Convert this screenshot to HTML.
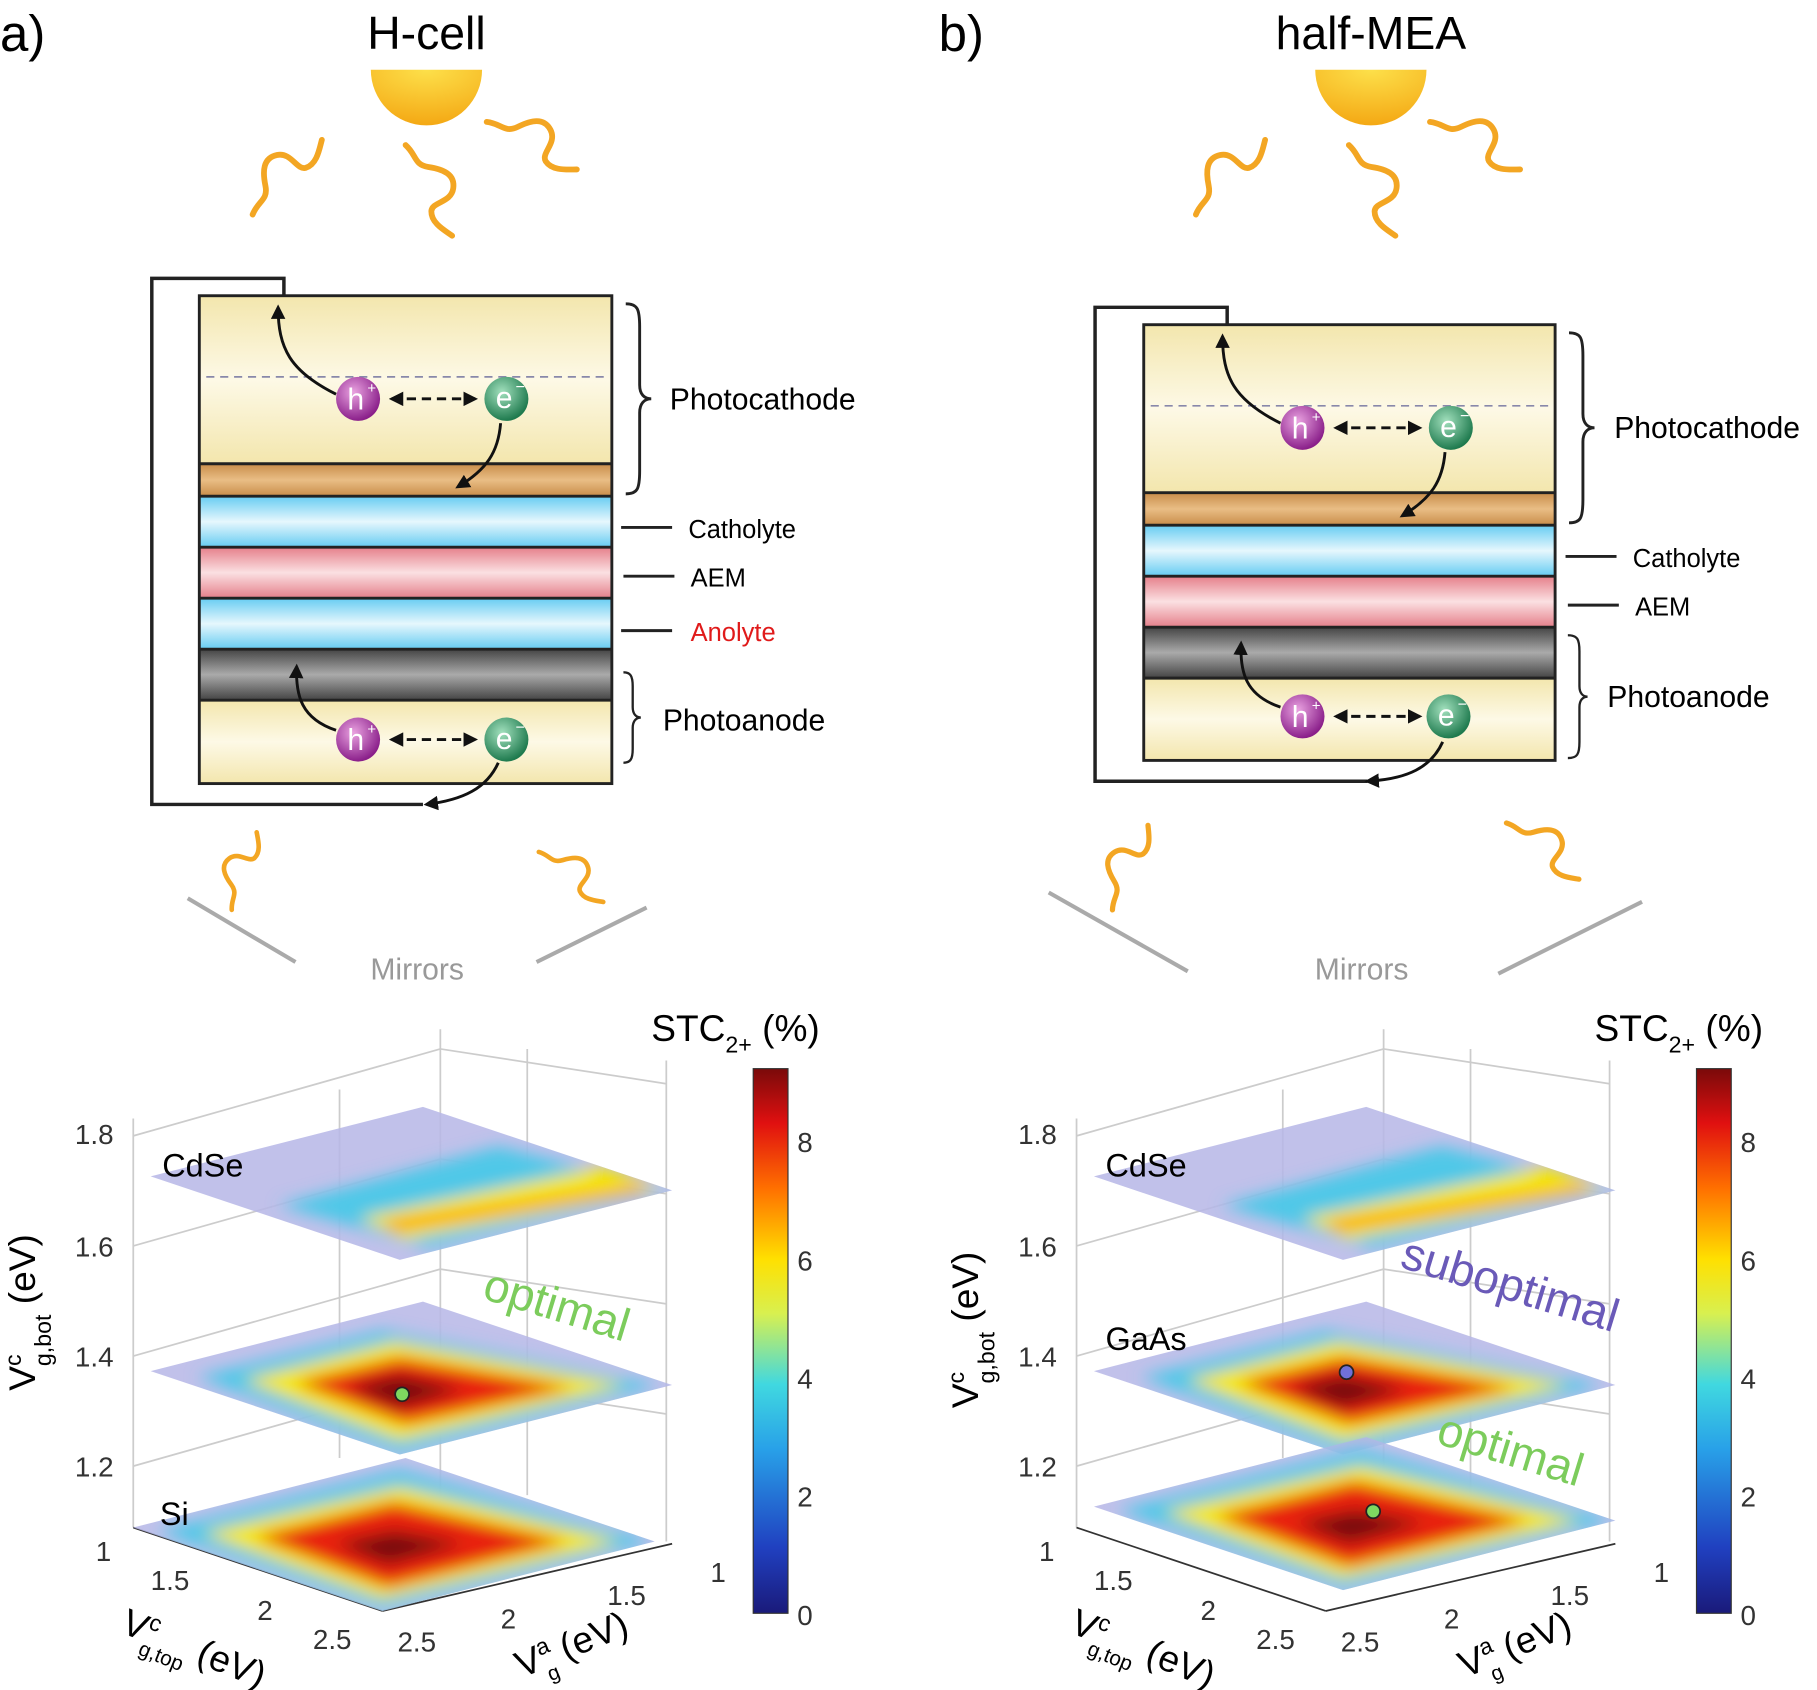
<!DOCTYPE html>
<html><head><meta charset="utf-8"><style>
html,body{margin:0;padding:0;background:#fff}
svg{display:block}
text{font-family:"Liberation Sans","DejaVu Sans",sans-serif}
</style></head><body>
<svg width="1817" height="1690" viewBox="0 0 1568 1458" xmlns="http://www.w3.org/2000/svg">
<defs>
<marker id="ah" viewBox="0 0 10 10" refX="8" refY="5" markerWidth="5" markerHeight="5" orient="auto-start-reverse"><path d="M0,0 L10,5 L0,10 z" fill="#111"/></marker>
<radialGradient id="sun" cx="50%" cy="0%" r="100%"><stop offset="0" stop-color="#fde04a"/><stop offset="1" stop-color="#f4a814"/></radialGradient>
<linearGradient id="yel" x1="0" y1="0" x2="0" y2="1"><stop offset="0" stop-color="#f3e6ad"/><stop offset="0.5" stop-color="#fdf9e6"/><stop offset="1" stop-color="#f3e6ad"/></linearGradient>
<linearGradient id="brn" x1="0" y1="0" x2="0" y2="1"><stop offset="0" stop-color="#c98d4a"/><stop offset="0.5" stop-color="#e9bd85"/><stop offset="1" stop-color="#c98d4a"/></linearGradient>
<linearGradient id="cyn" x1="0" y1="0" x2="0" y2="1"><stop offset="0" stop-color="#66ccf2"/><stop offset="0.5" stop-color="#e6f7fd"/><stop offset="1" stop-color="#66ccf2"/></linearGradient>
<linearGradient id="pnk" x1="0" y1="0" x2="0" y2="1"><stop offset="0" stop-color="#e57f8a"/><stop offset="0.5" stop-color="#fbe0e2"/><stop offset="1" stop-color="#e57f8a"/></linearGradient>
<linearGradient id="gry" x1="0" y1="0" x2="0" y2="1"><stop offset="0" stop-color="#444"/><stop offset="0.5" stop-color="#aaa"/><stop offset="1" stop-color="#444"/></linearGradient>
<radialGradient id="hg" cx="40%" cy="35%" r="65%"><stop offset="0" stop-color="#e9a2e0"/><stop offset="1" stop-color="#8a1f8a"/></radialGradient>
<radialGradient id="eg" cx="40%" cy="35%" r="65%"><stop offset="0" stop-color="#a2e0bd"/><stop offset="1" stop-color="#1e7a4e"/></radialGradient>
<linearGradient id="jet" x1="0" y1="1" x2="0" y2="0">
<stop offset="0" stop-color="#1a1a7a"/><stop offset="0.12" stop-color="#2040c0"/><stop offset="0.3" stop-color="#28a0e8"/><stop offset="0.42" stop-color="#40d8e0"/><stop offset="0.55" stop-color="#d8f050"/><stop offset="0.65" stop-color="#ffe000"/><stop offset="0.78" stop-color="#ff7000"/><stop offset="0.9" stop-color="#e01010"/><stop offset="1" stop-color="#7a0a0a"/></linearGradient>
<filter id="bl" x="-10%" y="-30%" width="120%" height="160%"><feGaussianBlur stdDeviation="7"/></filter>
<clipPath id="pl"><polygon points="0,0 235,-60 450,12 215,72"/></clipPath>
<g id="wave"><path d="M0,0 c10,-8 18,-4 22,-16 c4,-12 10,-22 22,-18 c12,4 8,20 16,22 c10,2 18,-8 24,-14" fill="none" stroke="#f3a623" stroke-width="5" stroke-linecap="round"/></g>
<g id="h"><circle r="19" fill="url(#hg)"/><text x="-2" y="9" font-size="26" fill="#fff" text-anchor="middle">h</text><text x="8" y="-5" font-size="13" fill="#fff">+</text></g>
<g id="e"><circle r="19" fill="url(#eg)"/><text x="-2" y="8" font-size="26" fill="#fff" text-anchor="middle">e</text><text x="8" y="-6" font-size="14" fill="#fff">−</text></g>
<g id="base"><polygon points="0,0 235,-60 450,12 215,72" fill="#b6b6e6" fill-opacity="0.85"/></g>
<g id="pMid"><use href="#base"/><g clip-path="url(#pl)"><g filter="url(#bl)">
<polygon points="40,5 200,-35 440,12 215,72" fill="#4fc8e8"/>
<polygon points="80,8 210,-25 410,12 215,60" fill="#f6e800"/>
<polygon points="125,10 215,-12 365,14 220,46" fill="#e82010"/>
<polygon points="170,14 215,3 270,16 215,32" fill="#7a0a0a"/></g></g></g>
<g id="pTop"><use href="#base"/><g clip-path="url(#pl)"><g filter="url(#bl)">
<polygon points="110,25 300,-26 450,12 240,62" fill="#4fc8e8"/>
<polygon points="180,36 390,-8 440,11 220,54" fill="#f6e800"/>
<polygon points="200,40 420,8 430,12 210,46" fill="#ff8000"/></g></g></g>
<g id="pBot"><use href="#base"/><g clip-path="url(#pl)"><g filter="url(#bl)">
<polygon points="20,3 230,-50 450,12 215,72" fill="#4fc8e8"/>
<polygon points="60,5 230,-35 420,12 215,62" fill="#f6e800"/>
<polygon points="105,8 225,-22 375,12 220,52" fill="#e82010"/>
<polygon points="175,14 225,3 285,14 220,32" fill="#7a0a0a"/></g></g></g>
<g id="axes" stroke="#ccc" stroke-width="1.5" fill="none">
<line x1="115" y1="965" x2="115" y2="1318"/><line x1="293" y1="940" x2="293" y2="1258"/><line x1="380" y1="888" x2="380" y2="1330"/><line x1="575" y1="915" x2="575" y2="1330"/><line x1="455" y1="905" x2="455" y2="1290"/>
<line x1="115" y1="980" x2="380" y2="905"/><line x1="115" y1="1075" x2="380" y2="1000"/><line x1="115" y1="1170" x2="380" y2="1095"/><line x1="115" y1="1265" x2="380" y2="1190"/>
<line x1="380" y1="905" x2="575" y2="935"/><line x1="380" y1="1000" x2="575" y2="1030"/><line x1="380" y1="1095" x2="575" y2="1125"/><line x1="380" y1="1190" x2="575" y2="1220"/>
<line x1="115" y1="1318" x2="330" y2="1390" stroke="#333"/><line x1="330" y1="1390" x2="580" y2="1332" stroke="#333"/>
</g>
</defs>

<!-- Panel a -->
<text x="0" y="44" font-size="44">a)</text>
<text x="368" y="42" font-size="40" text-anchor="middle">H-cell</text>
<path d="M320,60 A48,48 0 0 0 416,60 Z" fill="url(#sun)"/>
<use href="#wave" transform="translate(218,185) rotate(-30)"/>
<use href="#wave" transform="translate(350,125) rotate(80)"/>
<use href="#wave" transform="translate(420,105) rotate(45)"/>
<path d="M245,255 V240 H131 V694 H365" fill="none" stroke="#222" stroke-width="3"/>
<rect x="172" y="255" width="356" height="145" fill="url(#yel)"/>
<rect x="172" y="400" width="356" height="28" fill="url(#brn)"/>
<rect x="172" y="428" width="356" height="44" fill="url(#cyn)"/>
<rect x="172" y="472" width="356" height="44" fill="url(#pnk)"/>
<rect x="172" y="516" width="356" height="44" fill="url(#cyn)"/>
<rect x="172" y="560" width="356" height="44" fill="url(#gry)"/>
<rect x="172" y="604" width="356" height="72" fill="url(#yel)"/>
<g stroke="#222" stroke-width="2.5" fill="none"><rect x="172" y="255" width="356" height="421"/><line x1="172" y1="400" x2="528" y2="400"/><line x1="172" y1="428" x2="528" y2="428"/><line x1="172" y1="472" x2="528" y2="472"/><line x1="172" y1="516" x2="528" y2="516"/><line x1="172" y1="560" x2="528" y2="560"/><line x1="172" y1="604" x2="528" y2="604"/></g>
<line x1="178" y1="325" x2="522" y2="325" stroke="#8888aa" stroke-dasharray="7,5" stroke-width="1.5"/>
<g stroke="#111" stroke-width="2.5" fill="none"><path d="M290,340 C250,320 240,300 240,265" marker-end="url(#ah)"/><path d="M432,365 C430,390 420,405 395,420" marker-end="url(#ah)"/><path d="M290,630 C260,620 255,600 256,575" marker-end="url(#ah)"/><path d="M430,658 C420,680 400,690 368,694" marker-end="url(#ah)"/><line x1="338" y1="344" x2="410" y2="344" stroke-dasharray="8,5" marker-start="url(#ah)" marker-end="url(#ah)"/><line x1="338" y1="638" x2="410" y2="638" stroke-dasharray="8,5" marker-start="url(#ah)" marker-end="url(#ah)"/></g>
<use href="#h" x="309" y="344"/><use href="#e" x="437" y="344"/><use href="#h" x="309" y="638"/><use href="#e" x="437" y="638"/>
<path d="M540,262 c10,0 12,4 12,20 v50 c0,8 4,12 10,12 c-6,0 -10,4 -10,12 v50 c0,16 -2,20 -12,20" fill="none" stroke="#222" stroke-width="2.5"/>
<text x="578" y="353" font-size="26">Photocathode</text>
<g stroke="#222" stroke-width="2.5"><line x1="536" y1="455" x2="580" y2="455"/><line x1="538" y1="497" x2="582" y2="497"/><line x1="536" y1="544" x2="580" y2="544"/></g>
<text x="594" y="464" font-size="22">Catholyte</text><text x="596" y="506" font-size="22">AEM</text><text x="596" y="553" font-size="22" fill="#e01a1a">Anolyte</text>
<path d="M538,580 c6,0 8,3 8,12 v18 c0,6 3,9 7,9 c-4,0 -7,3 -7,9 v18 c0,9 -2,12 -8,12" fill="none" stroke="#222" stroke-width="2"/>
<text x="572" y="630" font-size="26">Photoanode</text>
<use href="#wave" transform="translate(200,785) rotate(-55) scale(0.8)"/>
<use href="#wave" transform="translate(465,735) rotate(55) scale(0.8)"/>
<g stroke="#aaa" stroke-width="3.5"><line x1="162" y1="775" x2="255" y2="830"/><line x1="463" y1="830" x2="558" y2="783"/></g>
<text x="360" y="845" font-size="26" fill="#999" text-anchor="middle">Mirrors</text>

<!-- Panel b -->
<text x="810" y="44" font-size="44">b)</text>
<text x="1183" y="42" font-size="40" text-anchor="middle">half-MEA</text>
<path d="M1135,60 A48,48 0 0 0 1231,60 Z" fill="url(#sun)"/>
<use href="#wave" transform="translate(1032,185) rotate(-30)"/>
<use href="#wave" transform="translate(1164,125) rotate(80)"/>
<use href="#wave" transform="translate(1234,105) rotate(45)"/>
<path d="M1059,280 V265 H945 V674 H1180" fill="none" stroke="#222" stroke-width="3"/>
<rect x="987" y="280" width="355" height="145" fill="url(#yel)"/>
<rect x="987" y="425" width="355" height="28" fill="url(#brn)"/>
<rect x="987" y="453" width="355" height="44" fill="url(#cyn)"/>
<rect x="987" y="497" width="355" height="44" fill="url(#pnk)"/>
<rect x="987" y="541" width="355" height="44" fill="url(#gry)"/>
<rect x="987" y="585" width="355" height="71" fill="url(#yel)"/>
<g stroke="#222" stroke-width="2.5" fill="none"><rect x="987" y="280" width="355" height="376"/><line x1="987" y1="425" x2="1342" y2="425"/><line x1="987" y1="453" x2="1342" y2="453"/><line x1="987" y1="497" x2="1342" y2="497"/><line x1="987" y1="541" x2="1342" y2="541"/><line x1="987" y1="585" x2="1342" y2="585"/></g>
<line x1="993" y1="350" x2="1336" y2="350" stroke="#8888aa" stroke-dasharray="7,5" stroke-width="1.5"/>
<g stroke="#111" stroke-width="2.5" fill="none"><path d="M1105,365 C1065,345 1055,325 1055,290" marker-end="url(#ah)"/><path d="M1247,390 C1245,415 1235,430 1210,445" marker-end="url(#ah)"/><path d="M1105,610 C1075,600 1070,580 1071,555" marker-end="url(#ah)"/><path d="M1245,640 C1235,662 1215,672 1180,674" marker-end="url(#ah)"/><line x1="1153" y1="369" x2="1225" y2="369" stroke-dasharray="8,5" marker-start="url(#ah)" marker-end="url(#ah)"/><line x1="1153" y1="618" x2="1225" y2="618" stroke-dasharray="8,5" marker-start="url(#ah)" marker-end="url(#ah)"/></g>
<use href="#h" x="1124" y="369"/><use href="#e" x="1252" y="369"/><use href="#h" x="1124" y="618"/><use href="#e" x="1250" y="618"/>
<path d="M1354,287 c10,0 12,4 12,20 v50 c0,8 4,12 10,12 c-6,0 -10,4 -10,12 v50 c0,16 -2,20 -12,20" fill="none" stroke="#222" stroke-width="2.5"/>
<text x="1393" y="378" font-size="26">Photocathode</text>
<g stroke="#222" stroke-width="2.5"><line x1="1351" y1="480" x2="1395" y2="480"/><line x1="1353" y1="522" x2="1397" y2="522"/></g>
<text x="1409" y="489" font-size="22">Catholyte</text><text x="1411" y="531" font-size="22">AEM</text>
<path d="M1353,548 c8,0 10,3 10,14 v30 c0,6 3,9 7,9 c-4,0 -7,3 -7,9 v30 c0,11 -2,14 -10,14" fill="none" stroke="#222" stroke-width="2"/>
<text x="1387" y="610" font-size="26">Photoanode</text>
<use href="#wave" transform="translate(960,785) rotate(-50) scale(0.9)"/>
<use href="#wave" transform="translate(1300,710) rotate(55) scale(0.9)"/>
<g stroke="#aaa" stroke-width="3.5"><line x1="905" y1="770" x2="1025" y2="838"/><line x1="1293" y1="840" x2="1417" y2="778"/></g>
<text x="1175" y="845" font-size="26" fill="#999" text-anchor="middle">Mirrors</text>

<!-- Plot a -->
<g>
<use href="#axes"/>
<use href="#pTop" x="130" y="1015"/>
<use href="#pMid" x="130" y="1183"/>
<use href="#pBot" x="115" y="1318"/>
<circle cx="347" cy="1203" r="6" fill="#7ed860" stroke="#222" stroke-width="1.5"/>
<text x="140" y="1015" font-size="28">CdSe</text>
<text x="138" y="1316" font-size="28">Si</text>
<text x="415" y="1120" font-size="40" fill="#7ccc5c" transform="rotate(17 415 1120)">optimal</text>
<g font-size="24" fill="#333" text-anchor="end"><text x="98" y="987">1.8</text><text x="98" y="1084">1.6</text><text x="98" y="1179">1.4</text><text x="98" y="1274">1.2</text><text x="96" y="1347">1</text></g>
<g font-size="24" fill="#333"><text x="130" y="1372">1.5</text><text x="222" y="1398">2</text><text x="270" y="1423">2.5</text><text x="343" y="1425">2.5</text><text x="432" y="1405">2</text><text x="524" y="1385">1.5</text><text x="613" y="1365">1</text></g>
<text transform="translate(30,1200) rotate(-90)" font-size="32">V<tspan font-size="20" dy="-12">c</tspan><tspan font-size="20" dx="-10" dy="26">g,bot</tspan><tspan dy="-14"> (eV)</tspan></text>
<text transform="translate(103,1408) rotate(22)" font-size="32">V<tspan font-size="20" dy="-12">c</tspan><tspan font-size="18" dx="-10" dy="24">g,top</tspan><tspan dy="-12"> (eV)</tspan></text>
<text transform="translate(450,1448) rotate(-22)" font-size="32">V<tspan font-size="20" dy="-12">a</tspan><tspan font-size="18" dx="-10" dy="24">g</tspan><tspan dy="-12"> (eV)</tspan></text>
<rect x="650" y="922" width="30" height="470" fill="url(#jet)" stroke="#333" stroke-width="1"/>
<g font-size="24" fill="#333"><text x="688" y="1402">0</text><text x="688" y="1300">2</text><text x="688" y="1198">4</text><text x="688" y="1096">6</text><text x="688" y="994">8</text></g>
<text x="562" y="898" font-size="32">STC<tspan font-size="20" dy="10">2+</tspan><tspan dy="-10"> (%)</tspan></text>
</g>

<!-- Plot b -->
<g transform="translate(814,0)">
<use href="#axes"/>
<use href="#pTop" x="130" y="1015"/>
<use href="#pMid" x="130" y="1183"/>
<use href="#pBot" x="130" y="1300"/>
<text x="140" y="1015" font-size="28">CdSe</text>
<text x="140" y="1165" font-size="28">GaAs</text>
<g font-size="24" fill="#333" text-anchor="end"><text x="98" y="987">1.8</text><text x="98" y="1084">1.6</text><text x="98" y="1179">1.4</text><text x="98" y="1274">1.2</text><text x="96" y="1347">1</text></g>
<g font-size="24" fill="#333"><text x="130" y="1372">1.5</text><text x="222" y="1398">2</text><text x="270" y="1423">2.5</text><text x="343" y="1425">2.5</text><text x="432" y="1405">2</text><text x="524" y="1385">1.5</text><text x="613" y="1365">1</text></g>
<text transform="translate(30,1215) rotate(-90)" font-size="32">V<tspan font-size="20" dy="-12">c</tspan><tspan font-size="20" dx="-10" dy="26">g,bot</tspan><tspan dy="-14"> (eV)</tspan></text>
<text transform="translate(108,1408) rotate(22)" font-size="32">V<tspan font-size="20" dy="-12">c</tspan><tspan font-size="18" dx="-10" dy="24">g,top</tspan><tspan dy="-12"> (eV)</tspan></text>
<text transform="translate(450,1448) rotate(-22)" font-size="32">V<tspan font-size="20" dy="-12">a</tspan><tspan font-size="18" dx="-10" dy="24">g</tspan><tspan dy="-12"> (eV)</tspan></text>
<rect x="650" y="922" width="30" height="470" fill="url(#jet)" stroke="#333" stroke-width="1"/>
<g font-size="24" fill="#333"><text x="688" y="1402">0</text><text x="688" y="1300">2</text><text x="688" y="1198">4</text><text x="688" y="1096">6</text><text x="688" y="994">8</text></g>
<text x="562" y="898" font-size="32">STC<tspan font-size="20" dy="10">2+</tspan><tspan dy="-10"> (%)</tspan></text>
</g>
<circle cx="1162" cy="1184" r="6" fill="#7070d8" stroke="#222" stroke-width="1.5"/>
<circle cx="1185" cy="1304" r="6" fill="#7ed860" stroke="#222" stroke-width="1.5"/>
<text x="1207" y="1093" font-size="40" fill="#6a5ab8" transform="rotate(17 1207 1093)">suboptimal</text>
<text x="1238" y="1245" font-size="40" fill="#7ccc5c" transform="rotate(17 1238 1245)">optimal</text>
</svg>
</body></html>
